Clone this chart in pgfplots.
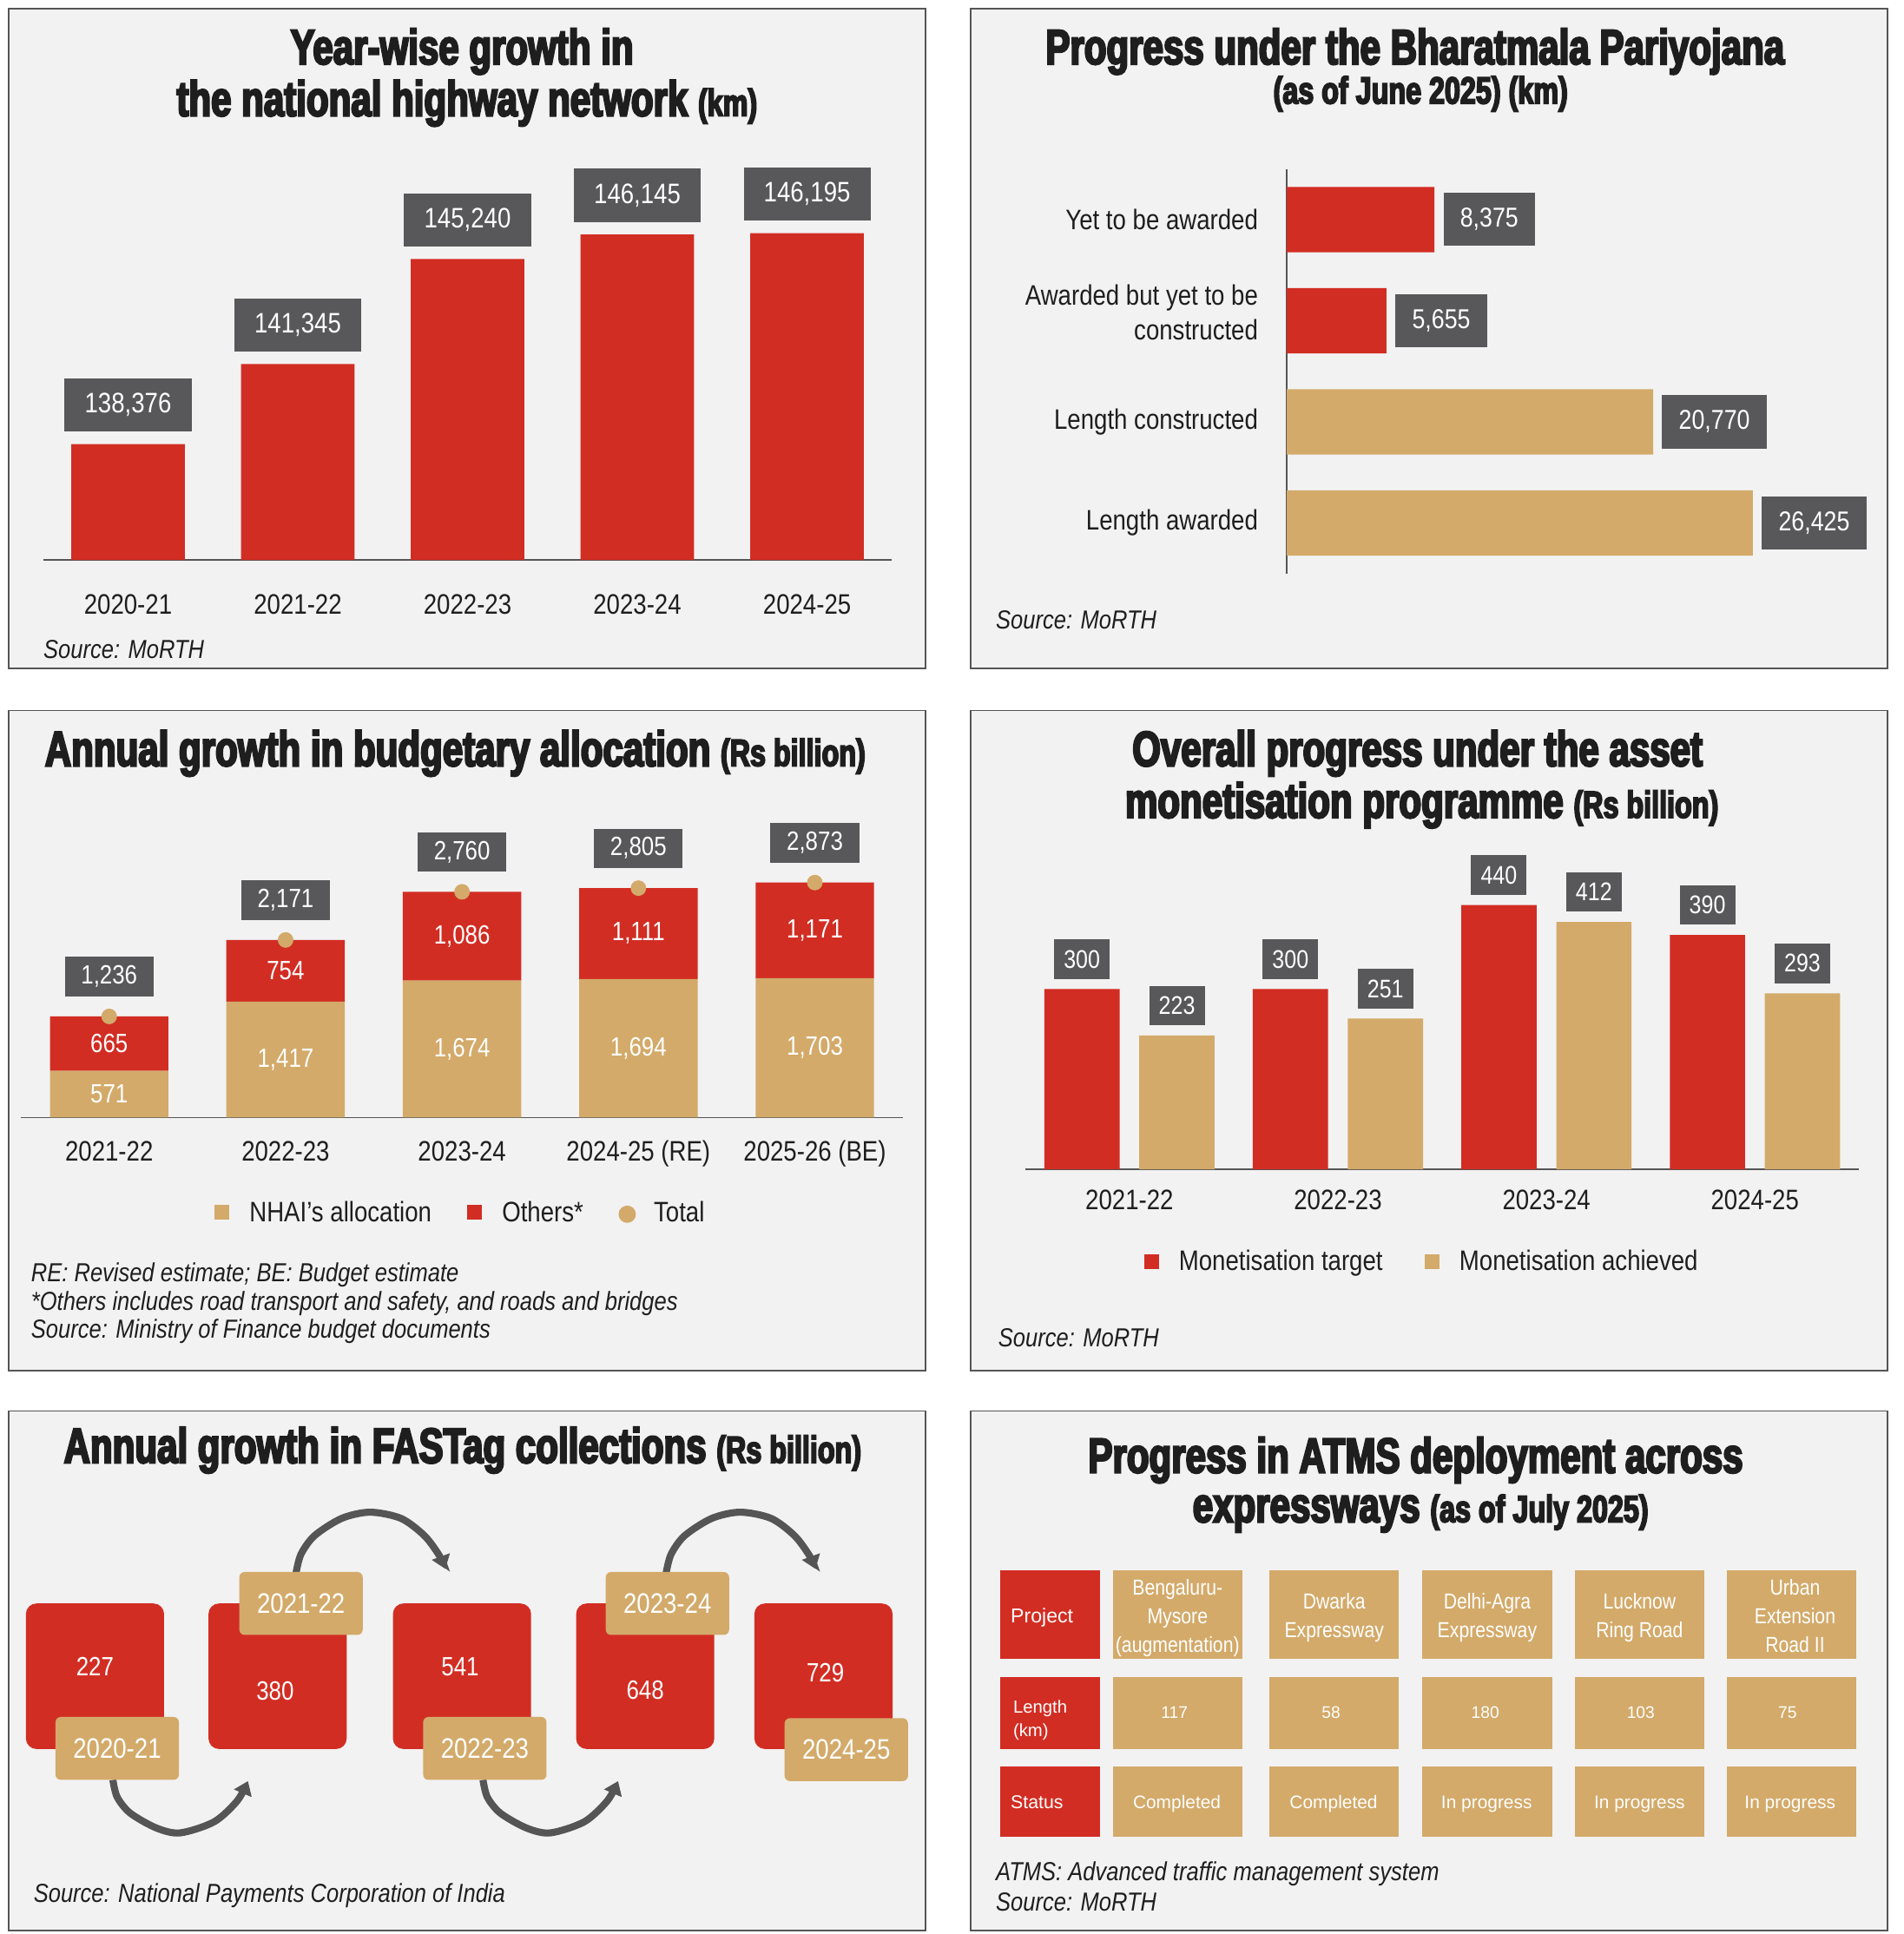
\documentclass[border=0pt]{standalone}
\usepackage{fontspec}
\setmainfont{Liberation Sans}[FakeStretch=0.85]
\newfontfamily\plainfont{Liberation Sans}
\newfontfamily\titlefont{Liberation Sans}[FakeStretch=0.74,BoldFeatures={FakeBold=4}]
\usepackage{pgfplots}
\pgfplotsset{compat=1.18}
\usetikzlibrary{arrows.meta}
\definecolor{hred}{HTML}{D22D23}
\definecolor{htan}{HTML}{D3AA6A}
\definecolor{hbox}{HTML}{58585A}
\definecolor{hbg}{HTML}{F2F2F2}
\definecolor{hframe}{HTML}{555555}
\definecolor{harrow}{HTML}{555555}
\definecolor{htxt}{HTML}{1E1E1E}
\newcommand\fs[2]{\fontsize{#1}{#2}\selectfont}
\newcommand\ttl{\titlefont\bfseries\fontsize{28}{30}\selectfont}
\newcommand\sub{\titlefont\bfseries\fontsize{21.5}{24}\selectfont}
\newcommand\src{\itshape\fontsize{14.8}{17}\selectfont}
\pgfplotsset{
  hbase/.style={scale only axis, clip=false, axis y line=none, axis x line*=bottom,
    axis line style={draw=hframe, line width=0.8pt, -},
    major tick length=0pt,
    tick label style={font=\fs{16}{18}, text=htxt}},
}
\begin{document}
\begin{tikzpicture}[x=0.7pt,y=-0.7pt]
\path[fill=white, use as bounding box] (0,0) rectangle (1543,1568);
% panel frames
\filldraw[fill=hbg, draw=hframe, line width=0.9pt] (7,7) rectangle (750,542);
\filldraw[fill=hbg, draw=hframe, line width=0.9pt] (787,7) rectangle (1530,542);
\filldraw[fill=hbg, draw=hframe, line width=0.9pt] (7,576) rectangle (750,1111);
\filldraw[fill=hbg, draw=hframe, line width=0.9pt] (787,576) rectangle (1530,1111);
\filldraw[fill=hbg, draw=hframe, line width=0.9pt] (7,1144) rectangle (750,1565);
\filldraw[fill=hbg, draw=hframe, line width=0.9pt] (787,1144) rectangle (1530,1565);

% titles
\begin{scope}[every node/.style={anchor=base, inner sep=0pt, text=htxt}]
\node at (374.5,52) {\ttl Year-wise growth in};
\node at (378.5,94) {\ttl the national highway network {\sub (km)}};
\node at (1147,52) {\ttl Progress under the Bharatmala Pariyojana};
\node at (1151.5,84) {\sub (as of June 2025) (km)};
\node at (369,621) {\ttl Annual growth in budgetary allocation {\sub (Rs billion)}};
\node at (1149,621) {\ttl Overall progress under the asset};
\node at (1152.5,663) {\ttl monetisation programme {\sub (Rs billion)}};
\node at (375,1186) {\ttl Annual growth in FASTag collections {\sub (Rs billion)}};
\node at (1147.5,1194) {\ttl Progress in ATMS deployment across};
\node at (1151.5,1234) {\ttl expressways {\sub (as of July 2025)}};
\end{scope}
% notes
\begin{scope}[every node/.style={anchor=base west, inner sep=0pt, text=htxt}]
\node at (35,534) {\src Source: MoRTH};
\node at (807,510) {\src Source: MoRTH};
\node at (25,1039) {\src RE: Revised estimate; BE: Budget estimate};
\node at (25,1062) {\src *Others includes road transport and safety, and roads and bridges};
\node at (25,1085) {\src Source: Ministry of Finance budget documents};
\node at (809,1092) {\src Source: MoRTH};
\node at (27,1542) {\src Source: National Payments Corporation of India};
\node at (807,1525) {\src ATMS: Advanced traffic management system};
\node at (807,1549) {\src Source: MoRTH};
\end{scope}

% ---------------- Panel 1
\begin{axis}[hbase, clip=true, at={(24.5pt,-317.8pt)}, anchor=south west, width=481.6pt, height=213.1pt,
  xmin=-0.5, xmax=4.5, ymin=134078, ymax=148000,
  xtick={0,1,2,3,4}, xticklabels={2020-21,2021-22,2022-23,2023-24,2024-25},
  xticklabel style={anchor=base, yshift=-30.8pt},
  ybar, bar width=64.4pt, point meta=explicit symbolic, nodes near coords,
  every node near coord/.append style={fill=hbox, text=white, inner sep=0pt, anchor=south,
    minimum width=72pt, minimum height=30.1pt, yshift=7pt, font=\fs{16}{18}}]
\addplot[fill=hred, draw=none, bar shift=0pt] coordinates {(0,138376)[138,376] (1,141345)[141,345] (2,145240)[145,240] (3,146145)[146,145] (4,146195)[146,195]};
\end{axis}

% ---------------- Panel 2
\begin{axis}[scale only axis, clip=false, at={(730.1pt,-325.5pt)}, anchor=south west, width=300.3pt, height=229.6pt,
  xmin=0, xmax=30000, ymin=-0.5, ymax=3.5,
  axis x line=none, axis y line*=left, y axis line style={draw=hframe, line width=0.8pt, -},
  major tick length=0pt, ytick={0,1,2,3},
  yticklabels={Length awarded, Length constructed, {Awarded but yet to be\\constructed\rule[-9.8pt]{0pt}{0pt}}, Yet to be awarded},
  yticklabel style={align=right, anchor=east, inner sep=0pt, xshift=-16.1pt, font=\fs{16}{19.6}, text=htxt},
  xbar, bar width=37.1pt, point meta=explicit symbolic, nodes near coords,
  every node near coord/.append style={fill=hbox, text=white, anchor=west, inner xsep=9.5pt, inner ysep=0pt,
    minimum height=30.1pt, xshift=4.9pt, font=\fs{15.5}{18}}]
\addplot[fill=hred, draw=none, bar shift=0pt] coordinates {(8375,3)[8,375] (5655,2)[5,655]};
\addplot[fill=htan, draw=none, bar shift=0pt] coordinates {(20770,1)[20,770] (26425,0)[26,425]};
\end{axis}

% ---------------- Panel 3 (bars)
\begin{axis}[hbase, at={(11.9pt,-634.2pt)}, anchor=south west, width=500.5pt, height=148.5pt,
  xmin=-0.5, xmax=4.5, ymin=0, ymax=3200,
  xtick={0,1,2,3,4}, xticklabels={2021-22,2022-23,2023-24,2024-25 (RE),2025-26 (BE)},
  xticklabel style={anchor=base, yshift=-24.5pt},
  ybar stacked, bar width=67.2pt]
\addplot[fill=htan, draw=none] coordinates {(0,571) (1,1417) (2,1674) (3,1694) (4,1703)};
\addplot[fill=hred, draw=none] coordinates {(0,665) (1,754) (2,1086) (3,1111) (4,1171)};
\end{axis}
% Panel 3 (labels, totals, legend)
\begin{axis}[scale only axis, clip=false, hide axis, at={(11.9pt,-634.2pt)}, anchor=south west, width=500.5pt, height=148.5pt,
  xmin=-0.5, xmax=4.5, ymin=0, ymax=3200, point meta=explicit symbolic,
  legend columns=3, legend cell align=left,
  legend style={draw=none, fill=none, at={(axis description cs:0.499,0)}, anchor=center, yshift=-53.9pt,
    font=\fs{16}{18}, text=htxt, /tikz/every even column/.append style={column sep=18pt}}]
\addplot[draw=none, forget plot, nodes near coords, every node near coord/.append style={anchor=center, inner sep=0pt, text=white, font=\fs{15}{18}}]
  coordinates {(0,285.5)[571] (1,708.5)[1,417] (2,837)[1,674] (3,847)[1,694] (4,851.5)[1,703]};
\addplot[draw=none, forget plot, nodes near coords, every node near coord/.append style={anchor=center, inner sep=0pt, text=white, font=\fs{15}{18}}]
  coordinates {(0,903.5)[665] (1,1794)[754] (2,2217)[1,086] (3,2249.5)[1,111] (4,2288.5)[1,171]};
\addplot[only marks, forget plot, mark=*, mark size=4.2pt, color=htan, nodes near coords,
  every node near coord/.append style={fill=hbox, text=white, anchor=south, yshift=11.2pt, minimum width=50.4pt,
    minimum height=22.4pt, inner sep=0pt, font=\fs{15}{18}}]
  coordinates {(0,1236)[1,236] (1,2171)[2,171] (2,2760)[2,760] (3,2805)[2,805] (4,2873)[2,873]};
\addlegendimage{draw=none, legend image code/.code={\fill[htan, draw=none] (0pt,-4.2pt) rectangle (8.4pt,4.2pt); \path[draw=none, fill=none] (0pt,0pt) -- (18pt,0pt);}}
\addlegendentry{NHAI’s allocation}
\addlegendimage{draw=none, legend image code/.code={\fill[hred, draw=none] (0pt,-4.2pt) rectangle (8.4pt,4.2pt); \path[draw=none, fill=none] (0pt,0pt) -- (18pt,0pt);}}
\addlegendentry{Others*}
\addlegendimage{draw=none, legend image code/.code={\fill[htan, draw=none] (4.9pt,-1pt) circle (4.9pt); \path[draw=none, fill=none] (0pt,0pt) -- (18pt,0pt);}}
\addlegendentry{Total}
\end{axis}

% ---------------- Panel 4
\begin{axis}[hbase, at={(581.7pt,-663.6pt)}, anchor=south west, width=473.2pt, height=163.6pt,
  xmin=-0.5, xmax=3.5, ymin=0, ymax=480,
  xtick={0,1,2,3}, xticklabels={2021-22,2022-23,2023-24,2024-25},
  xticklabel style={anchor=base, yshift=-23.1pt},
  ybar=11.2pt, bar width=42.7pt, point meta=explicit symbolic, nodes near coords,
  every node near coord/.append style={fill=hbox, text=white, anchor=south, yshift=5.6pt, minimum width=31.5pt,
    minimum height=22.4pt, inner sep=0pt, font=\fs{14.5}{17}},
  legend columns=2, legend cell align=left,
  legend style={draw=none, fill=none, at={(axis description cs:0.477,0)}, anchor=center, yshift=-52.5pt,
    font=\fs{16}{18}, text=htxt, /tikz/every even column/.append style={column sep=22pt}}]
\addplot[fill=hred, draw=none, legend image code/.code={\fill[hred, draw=none] (0pt,-4.2pt) rectangle (8.4pt,4.2pt); \path[draw=none, fill=none] (0pt,0pt) -- (17.5pt,0pt);}]
  coordinates {(0,300)[300] (1,300)[300] (2,440)[440] (3,390)[390]};
\addlegendentry{Monetisation target}
\addplot[fill=htan, draw=none, legend image code/.code={\fill[htan, draw=none] (0pt,-4.2pt) rectangle (8.4pt,4.2pt); \path[draw=none, fill=none] (0pt,0pt) -- (17.5pt,0pt);}]
  coordinates {(0,223)[223] (1,251)[251] (2,412)[412] (3,293)[293]};
\addlegendentry{Monetisation achieved}
\end{axis}

% ---------------- Panel 5
\begin{axis}[scale only axis, clip=false, hide axis, at={(4.9pt,-800.8pt)}, anchor=north west, width=520.1pt, height=294.7pt,
  xmin=7, xmax=750, ymin=1144, ymax=1565, y dir=reverse, point meta=explicit symbolic]
\addplot[smooth, harrow, line width=4pt, -{Triangle[length=7.5pt,width=10.5pt]}]
  coordinates {(91.5,1443) (95,1457) (105.6,1470) (126.7,1482) (146,1486) (173.6,1477) (192.3,1460) (201,1444)};
\addplot[smooth, harrow, line width=4pt, -{Triangle[length=7.5pt,width=10.5pt]}]
  coordinates {(240,1275) (244,1260) (255,1245) (277,1231) (300,1226) (325,1231) (344,1245) (356,1261) (361,1272)};
\addplot[smooth, harrow, line width=4pt, -{Triangle[length=7.5pt,width=10.5pt]}]
  coordinates {(391.5,1443) (395,1457) (405.6,1470) (426.7,1482) (446,1486) (473.6,1477) (492.3,1460) (501,1444)};
\addplot[smooth, harrow, line width=4pt, -{Triangle[length=7.5pt,width=10.5pt]}]
  coordinates {(540,1275) (544,1260) (555,1245) (577,1231) (600,1226) (625,1231) (644,1245) (656,1261) (661,1272)};
\addplot[draw=none, nodes near coords={}, every node near coord/.append style={anchor=center, fill=hred,
    rounded corners=6pt, minimum width=78.4pt, minimum height=82.6pt, inner sep=0pt}]
  coordinates {(77,1359)[a] (225,1359)[a] (374.5,1359)[a] (523,1359)[a] (667.5,1359)[a]};
\addplot[draw=none, nodes near coords, every node near coord/.append style={anchor=center, inner sep=0pt, text=white, font=\fs{15}{18}}]
  coordinates {(77,1351)[227] (223,1371)[380] (373,1351)[541] (523,1370)[648] (669,1356)[729]};
\addplot[draw=none, nodes near coords, every node near coord/.append style={anchor=center, fill=htan,
    rounded corners=3pt, minimum width=70pt, minimum height=35.7pt, inner sep=0pt, text=white, font=\fs{16}{18}}]
  coordinates {(95,1417.5)[2020-21] (244,1300)[2021-22] (393,1417.5)[2022-23] (541,1300)[2023-24] (686,1418.5)[2024-25]};
\end{axis}

% ---------------- Panel 6
\begin{axis}[scale only axis, clip=false, hide axis, at={(550.9pt,-800.8pt)}, anchor=north west, width=520.1pt, height=294.7pt,
  xmin=787, xmax=1530, ymin=1144, ymax=1565, y dir=reverse, point meta=explicit symbolic,
  every node near coord/.append style={anchor=center, inner sep=0pt, text=white}]
\addplot[draw=none, nodes near coords={}, every node near coord/.append style={fill=hred, minimum width=56.7pt, minimum height=50.4pt}]
  coordinates {(851.5,1309)[a]};
\addplot[draw=none, nodes near coords={}, every node near coord/.append style={fill=hred, minimum width=56.7pt, minimum height=40.6pt}]
  coordinates {(851.5,1389)[a]};
\addplot[draw=none, nodes near coords={}, every node near coord/.append style={fill=hred, minimum width=56.7pt, minimum height=39.9pt}]
  coordinates {(851.5,1460.5)[a]};
\addplot[draw=none, nodes near coords={}, every node near coord/.append style={fill=htan, minimum width=73.5pt, minimum height=50.4pt}]
  coordinates {(954.5,1309)[a] (1081.5,1309)[a] (1205.5,1309)[a] (1329,1309)[a] (1452,1309)[a]};
\addplot[draw=none, nodes near coords={}, every node near coord/.append style={fill=htan, minimum width=73.5pt, minimum height=40.6pt}]
  coordinates {(954.5,1389)[a] (1081.5,1389)[a] (1205.5,1389)[a] (1329,1389)[a] (1452,1389)[a]};
\addplot[draw=none, nodes near coords={}, every node near coord/.append style={fill=htan, minimum width=73.5pt, minimum height=39.9pt}]
  coordinates {(954.5,1460.5)[a] (1081.5,1460.5)[a] (1205.5,1460.5)[a] (1329,1460.5)[a] (1452,1460.5)[a]};
% header text
\addplot[draw=none, nodes near coords, every node near coord/.append style={anchor=base west, font=\plainfont\fs{11.4}{14}}]
  coordinates {(819,1316)[Project]};
\addplot[draw=none, nodes near coords, every node near coord/.append style={anchor=base west, font=\plainfont\fs{10}{12}}]
  coordinates {(821,1389)[Length] (821,1408)[(km)]};
\addplot[draw=none, nodes near coords, every node near coord/.append style={anchor=base west, font=\plainfont\fs{10.5}{12}}]
  coordinates {(819,1466)[Status]};
% project names
\addplot[draw=none, nodes near coords, every node near coord/.append style={anchor=base, font=\fs{12.3}{15}}]
  coordinates {(954.5,1293.4)[Bengaluru-] (954.5,1316.4)[Mysore] (954.5,1339.4)[(augmentation)]
  (1081.5,1304.4)[Dwarka] (1081.5,1327.4)[Expressway]
  (1205.5,1304.4)[Delhi-Agra] (1205.5,1327.4)[Expressway]
  (1329,1304.4)[Lucknow] (1329,1327.4)[Ring Road]
  (1455,1293.4)[Urban] (1455,1316.4)[Extension] (1455,1339.4)[Road II]};
% lengths
\addplot[draw=none, nodes near coords, every node near coord/.append style={anchor=base, font=\plainfont\fs{9.5}{12}}]
  coordinates {(952,1393)[117] (1079,1393)[58] (1204,1393)[180] (1330,1393)[103] (1449,1393)[75]};
% status
\addplot[draw=none, nodes near coords, every node near coord/.append style={anchor=base, font=\plainfont\fs{10.3}{13}}]
  coordinates {(954,1466)[Completed] (1081,1466)[Completed] (1205,1466)[In progress] (1329,1466)[In progress] (1451,1466)[In progress]};
\end{axis}
\end{tikzpicture}
\end{document}
